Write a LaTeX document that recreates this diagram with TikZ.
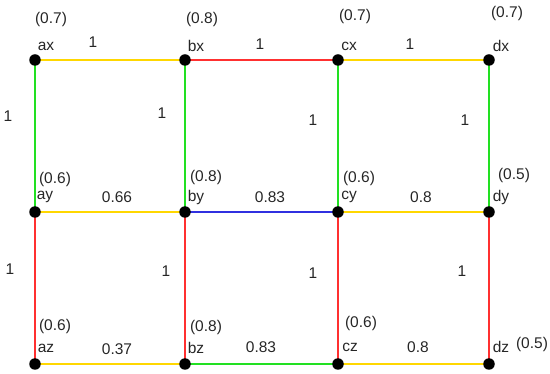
\documentclass[tikz,border=0pt]{standalone}
\usepackage{fontspec}
\setmainfont{Liberation Sans}
\definecolor{cy}{HTML}{FFD700}
\definecolor{cr}{HTML}{FF3030}
\definecolor{cg}{HTML}{22E022}
\definecolor{cb}{HTML}{3030E0}
\begin{document}
\begin{tikzpicture}[x=1pt,y=-1pt,
  dot/.style={circle,fill=black,inner sep=0pt,minimum size=11.5pt},
  txt/.style={inner sep=0pt,font=\fontsize{15.5}{18}\selectfont,text=black!85},
  edge/.style={line width=2pt}]
\useasboundingbox (0,0) rectangle (550,374);
% vertices
\foreach \n/\x/\y in {ax/35/60,bx/185/60,cx/338/60,dx/489/60,
                      ay/35/212,by/185/212,cy/338/212,dy/489/212,
                      az/35/364,bz/185/364,cz/338/364,dz/489/364}
  \coordinate (\n) at (\x,\y);
% edges
\draw[edge,cy] (ax) -- (bx);
\draw[edge,cr] (bx) -- (cx);
\draw[edge,cy] (cx) -- (dx);
\draw[edge,cy] (ay) -- (by);
\draw[edge,cb] (by) -- (cy);
\draw[edge,cy] (cy) -- (dy);
\draw[edge,cy] (az) -- (bz);
\draw[edge,cg] (bz) -- (cz);
\draw[edge,cy] (cz) -- (dz);
\draw[edge,cg] (ax) -- (ay);
\draw[edge,cg] (bx) -- (by);
\draw[edge,cg] (cx) -- (cy);
\draw[edge,cg] (dx) -- (dy);
\draw[edge,cr] (ay) -- (az);
\draw[edge,cr] (by) -- (bz);
\draw[edge,cr] (cy) -- (cz);
\draw[edge,cr] (dy) -- (dz);
% dots
\foreach \n in {ax,bx,cx,dx,ay,by,cy,dy,az,bz,cz,dz}
  \node[dot] (d\n) at (\n) {};
% vertex names and values
\node[txt] (lax) at (46,46) {ax};   \node[txt] (vax) at (51,19) {(0.7)};
\node[txt] (lbx) at (196,46) {bx};  \node[txt] (vbx) at (202,19) {(0.8)};
\node[txt] (lcx) at (349,46) {cx};  \node[txt] (vcx) at (355,16) {(0.7)};
\node[txt] (ldx) at (501,46) {dx};  \node[txt] (vdx) at (507,13) {(0.7)};
\node[txt] (lay) at (45,197) {ay};  \node[txt] (vay) at (55,179) {(0.6)};
\node[txt] (lby) at (196,197) {by}; \node[txt] (vby) at (206,177) {(0.8)};
\node[txt] (lcy) at (349,197) {cy}; \node[txt] (vcy) at (359,178) {(0.6)};
\node[txt] (ldy) at (501,197) {dy}; \node[txt] (vdy) at (514,175) {(0.5)};
\node[txt] (laz) at (46,348) {az};  \node[txt] (vaz) at (55,326) {(0.6)};
\node[txt] (lbz) at (196,348) {bz}; \node[txt] (vbz) at (206,327) {(0.8)};
\node[txt] (lcz) at (350,347) {cz}; \node[txt] (vcz) at (361,323) {(0.6)};
\node[txt] (ldz) at (501,347) {dz}; \node[txt] (vdz) at (532,344) {(0.5)};
% edge weights
\node[txt] (w1) at (93,42) {1};
\node[txt] (w2) at (260,44) {1};
\node[txt] (w3) at (410,44) {1};
\node[txt] (w4) at (8,116) {1};
\node[txt] (w5) at (162,113) {1};
\node[txt] (w6) at (313,120) {1};
\node[txt] (w7) at (465,120) {1};
\node[txt] (w8) at (117,197) {0.66};
\node[txt] (w9) at (270,197) {0.83};
\node[txt] (w10) at (421,197) {0.8};
\node[txt] (w11) at (10,269) {1};
\node[txt] (w12) at (166,271) {1};
\node[txt] (w13) at (313,273) {1};
\node[txt] (w14) at (462,271) {1};
\node[txt] (w15) at (117,349) {0.37};
\node[txt] (w16) at (261,347) {0.83};
\node[txt] (w17) at (418,347) {0.8};
\end{tikzpicture}
\end{document}
